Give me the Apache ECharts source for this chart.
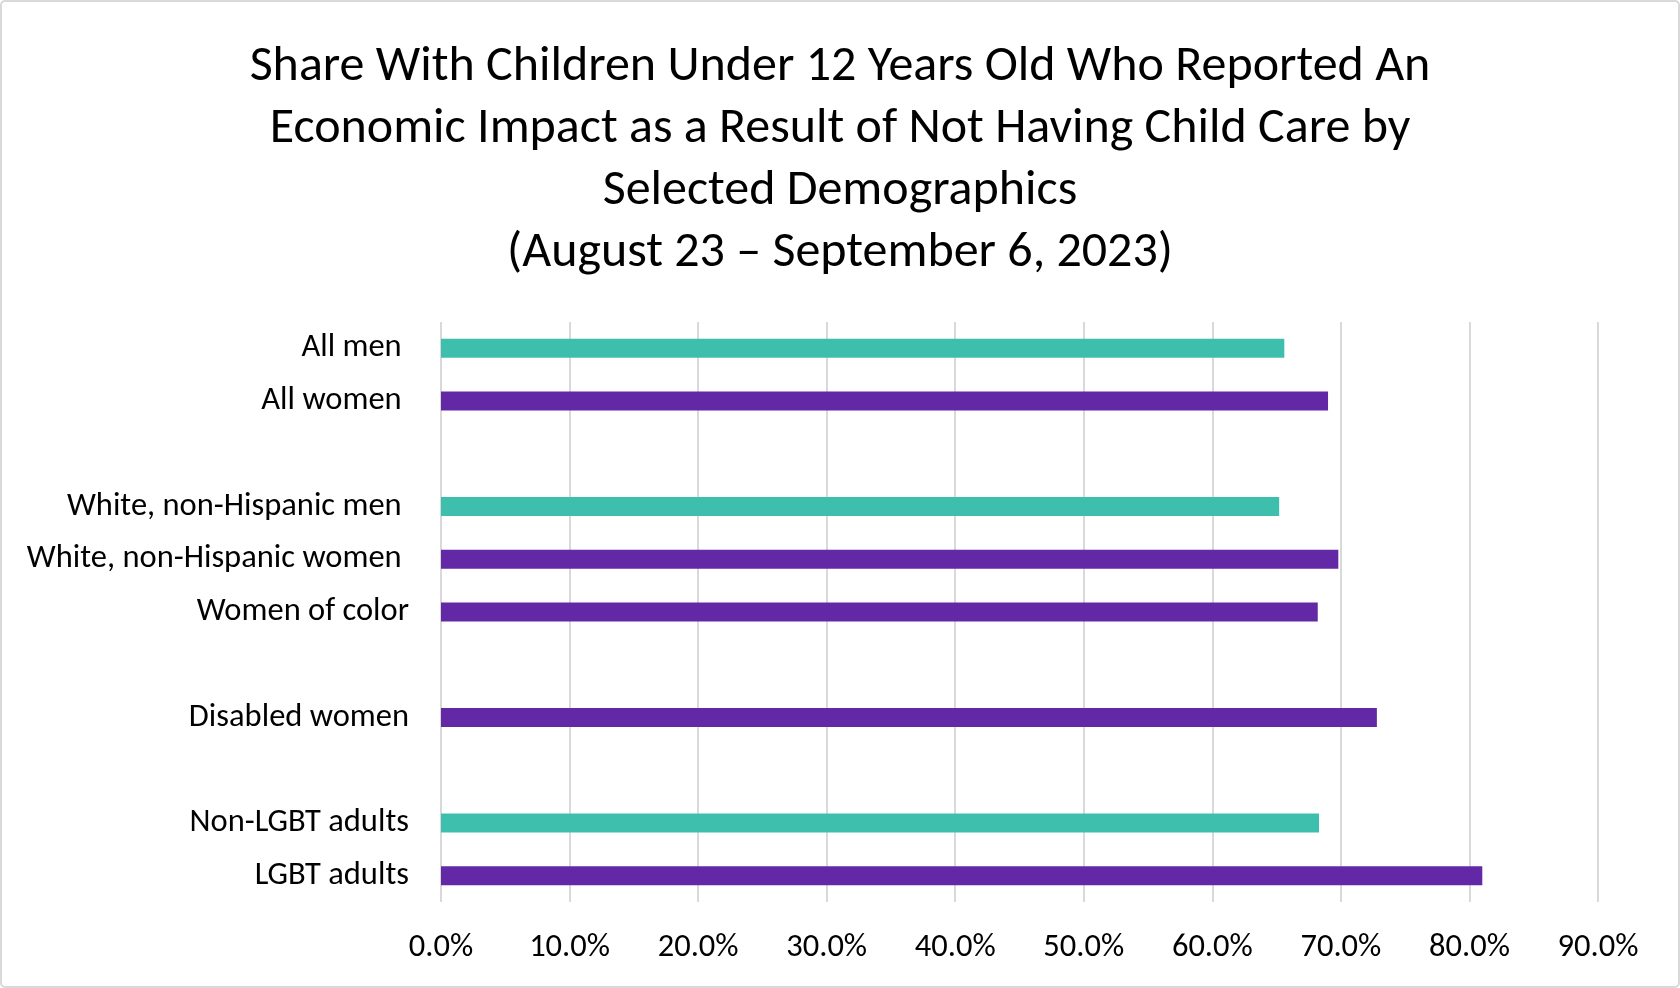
<!DOCTYPE html>
<html>
<head>
<meta charset="utf-8">
<style>
  html, body { margin: 0; padding: 0; background: #fff; }
  #chart { width: 1680px; height: 988px; }
</style>
<script src="https://cdn.jsdelivr.net/npm/echarts@6/dist/echarts.min.js"></script>
</head>
<body>
<div id="chart"></div>
<script>
// categories top to bottom, '' = gap row
var categories = ['All men ', 'All women ', '', 'White, non-Hispanic men ', 'White, non-Hispanic women ',
    'Women of color', '', 'Disabled women', '', 'Non-LGBT adults', 'LGBT adults'];
var values = [65.6, 69.0, null, 65.2, 69.8, 68.2, null, 72.8, null, 68.3, 81.0];
var groups = ['m', 'w', '', 'm', 'w', 'w', '', 'w', '', 'm', 'w'];
var tickLabels = ['0.0%', '10.0%', '20.0%', '30.0%', '40.0%', '50.0%', '60.0%', '70.0%', '80.0%', '90.0%'];

var TEAL = '#3ebfae';
var PURPLE = '#6228a5';
var FONT = 'Carlito, Lato, sans-serif';

var chart = echarts.init(document.getElementById('chart'));

var barData = [];
for (var i = 0; i < values.length; i++) {
    barData.push({
        value: values[i],
        itemStyle: {color: groups[i] === 'm' ? TEAL : PURPLE}
    });
}

var option = {
    backgroundColor: '#fff',
    animation: false,
    title: {
        text: 'Share With Children Under 12 Years Old Who Reported An\nEconomic Impact as a Result of Not Having Child Care by\nSelected Demographics\n(August 23 \u2013 September 6, 2023)',
        left: 'center',
        top: 31,
        textStyle: {
            fontFamily: FONT,
            fontSize: 50,
            fontWeight: 'normal',
            color: '#000',
            lineHeight: 62
        }
    },
    graphic: [{
        type: 'rect',
        shape: {x: 1, y: 1, width: 1678, height: 986, r: 4},
        style: {fill: 'none', stroke: '#d9d9d9', lineWidth: 2},
        silent: true
    }],
    grid: {
        left: 441,
        right: 82,
        top: 322,
        bottom: 86,
        containLabel: false
    },
    xAxis: {
        type: 'value',
        min: 0,
        max: 90,
        interval: 10,
        axisLine: {show: false},
        axisTick: {show: false},
        axisLabel: {
            margin: 29,
            fontFamily: FONT,
            fontSize: 32.5,
            color: '#000',
            formatter: function (v) {
                return tickLabels[Math.round(v / 10)];
            }
        },
        splitLine: {show: true, lineStyle: {color: '#d9d9d9', width: 2}}
    },
    yAxis: {
        type: 'category',
        inverse: true,
        data: categories,
        axisLine: {show: false},
        axisTick: {show: false},
        axisLabel: {
            margin: 32,
            fontFamily: FONT,
            fontSize: 32.5,
            color: '#000'
        }
    },
    series: [{
        type: 'bar',
        barWidth: 19,
        data: barData
    }]
};

chart.setOption(option);
</script>
</body>
</html>
